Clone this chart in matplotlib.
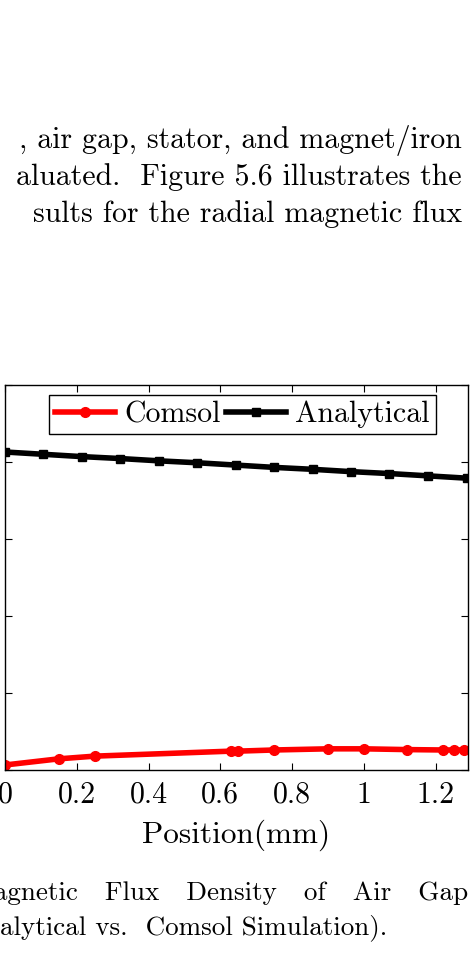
import matplotlib.pyplot as plt

plt.rcParams['font.family'] = 'serif'
plt.rcParams['font.serif'] = ['cmr10', 'DejaVu Serif']
plt.rcParams['mathtext.fontset'] = 'cm'
plt.rcParams['axes.unicode_minus'] = False
plt.rcParams['axes.formatter.use_mathtext'] = True

# data (y scale not visible; 0..1 used)
comsol_x = [0.0, 0.15, 0.25, 0.63, 0.65, 0.75, 0.9, 1.0, 1.12, 1.22, 1.25, 1.28]
comsol_y = [0.013, 0.029, 0.036, 0.049, 0.049, 0.052, 0.055, 0.055, 0.053, 0.052, 0.052, 0.052]
anal_x = [0.0, 0.107, 0.214, 0.321, 0.429, 0.536, 0.643, 0.75, 0.857, 0.964, 1.071, 1.179, 1.286]
anal_y = [0.826, 0.820, 0.814, 0.809, 0.803, 0.798, 0.792, 0.786, 0.781, 0.775, 0.770, 0.764, 0.758]
x_ticks = [0, 0.2, 0.4, 0.6, 0.8, 1, 1.2]
x_tick_labels = ['0', '0.2', '0.4', '0.6', '0.8', '1', '1.2']
y_ticks = [0, 0.2, 0.4, 0.6, 0.8, 1.0]

body = [
    ', air gap, stator, and magnet/iron',
    'aluated.  Figure 5.6 illustrates the',
    'sults for the radial magnetic flux',
]
caption = [
    'Magnetic   Flux   Density   of   Air   Gap',
    'alytical vs.  Comsol Simulation).',
]

W, H = 474, 963
fig = plt.figure(figsize=(W / 100, H / 100), dpi=100)

for i, line in enumerate(body):
    fig.text(462 / W, 1 - (140 + 37 * i) / H, line, ha='right', va='center', fontsize=21.5)

fig.text(468 / W, 1 - 893 / H, caption[0], ha='right', va='center', fontsize=19.5)
fig.text(0, 1 - 928 / H, caption[1], ha='left', va='center', fontsize=19.5)

ax = fig.add_axes([5 / W, (H - 770) / H, 463 / W, 385 / H])
ax.plot(comsol_x, comsol_y, '-o', color='red', lw=4, ms=7, label='Comsol')
ax.plot(anal_x, anal_y, '-s', color='black', lw=4, ms=6, label='Analytical')
ax.set_xlim(0, 1.29)
ax.set_ylim(0, 1.0)
ax.set_xticks(x_ticks)
ax.set_xticklabels(x_tick_labels, fontsize=21.5)
ax.set_yticks(y_ticks)
ax.tick_params(direction='in', length=5, labelleft=False, top=True, right=True, pad=8)
ax.set_xlabel('Position(mm)', fontsize=22.5, labelpad=8)
for s in ax.spines.values():
    s.set_linewidth(1.0)
ax.legend(loc='upper right', bbox_to_anchor=(0.93, 0.975), ncol=2, fontsize=21.5,
          fancybox=False, edgecolor='black', framealpha=1, handlelength=2.0,
          columnspacing=0.2, handletextpad=0.3, borderpad=0.2, borderaxespad=0)

fig.savefig('out.png', dpi=100)
